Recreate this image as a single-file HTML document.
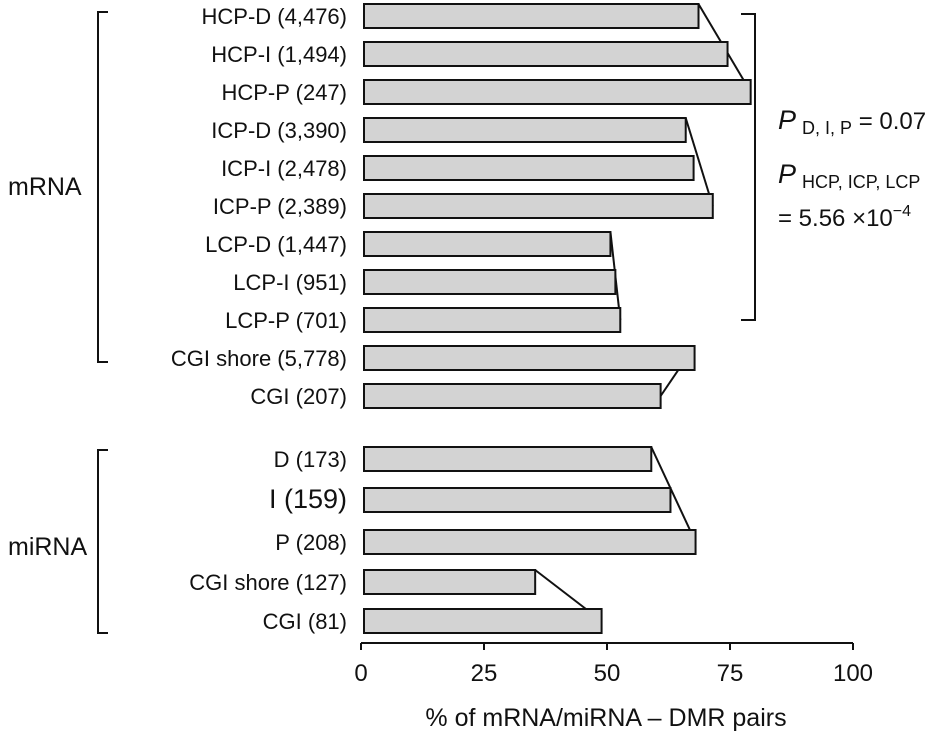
<!DOCTYPE html>
<html><head><meta charset="utf-8"><style>
body{margin:0;background:#fff;}
svg text{font-family:"Liberation Sans",sans-serif;fill:#111;}
</style></head><body>
<svg width="946" height="732" xmlns="http://www.w3.org/2000/svg">
<g id="lines"></g><g id="bars"></g><g id="labels"></g><g id="axis"></g>
<g fill="none" stroke="#111" stroke-width="2">
<path d="M108,12 H98 V362 H108"/>
<path d="M108,450 H98 V633 H108"/>
<path d="M741,14 H755 V320 H741"/>
</g>
<text x="8" y="195" font-size="25">mRNA</text>
<text x="8" y="555" font-size="25">miRNA</text>
<text x="778" y="129" font-size="24"><tspan font-style="italic" font-size="27">P</tspan><tspan font-size="18" dx="6" dy="5">D, I, P</tspan><tspan dy="-5"> = 0.07</tspan></text>
<text x="778" y="183" font-size="24"><tspan font-style="italic" font-size="27">P</tspan><tspan font-size="18" dx="6" dy="5">HCP, ICP, LCP</tspan></text>
<text x="778" y="226" font-size="24">= 5.56 ×10<tspan font-size="16" dy="-10">−4</tspan></text>
<text x="606" y="726" font-size="25" text-anchor="middle">% of mRNA/miRNA – DMR pairs</text>
</svg>
<script>
const categories=["HCP-D (4,476)","HCP-I (1,494)","HCP-P (247)","ICP-D (3,390)","ICP-I (2,478)","ICP-P (2,389)","LCP-D (1,447)","LCP-I (951)","LCP-P (701)","CGI shore (5,778)","CGI (207)","D (173)","I (159)","P (208)","CGI shore (127)","CGI (81)"];
const values=[68.6,74.5,79.2,66,67.6,71.5,50.7,51.7,52.7,67.8,60.9,59,62.9,68,35.4,48.9];
const groups=[[0,2],[3,5],[6,8],[9,10],[11,13],[14,15]];
const ticks=[0,25,50,75,100];
const tops=[4,42,80,118,156,194,232,270,308,346,384,447,488,530,570,609];
const NS="http://www.w3.org/2000/svg";
const x=v=>361+v*4.92;
const BH=24;
function mk(t,a,p){const e=document.createElementNS(NS,t);for(const k in a)e.setAttribute(k,a[k]);document.getElementById(p).appendChild(e);return e;}
values.forEach((v,i)=>{
 const r=mk('rect',{x:364,y:tops[i],width:x(v)-364,height:BH,fill:'#d3d3d3',stroke:'#111','stroke-width':2},'bars');
 
 
 const t=mk('text',{x:347,y:tops[i]+20,'text-anchor':'end','font-size':i===12?27:22},'labels');
 t.textContent=categories[i];
 
 
});
groups.forEach(g=>{
 const a=g[0],b=g[1];
 const l=mk('line',{x1:x(values[a]),y1:tops[a],x2:x(values[b]),y2:tops[b]+BH/2,stroke:'#111','stroke-width':2},'lines');
 
 
});
const ax=mk('line',{x1:x(0),y1:643,x2:x(100),y2:643,stroke:'#111','stroke-width':2},'axis');


ticks.forEach(v=>{
 const tk=mk('line',{x1:x(v),y1:643,x2:x(v),y2:650,stroke:'#111','stroke-width':2},'axis');
 
 
 const tl=mk('text',{x:x(v),y:681,'text-anchor':'middle','font-size':24},'axis');
 tl.textContent=v;
 
 
});
</script>
</body></html>
